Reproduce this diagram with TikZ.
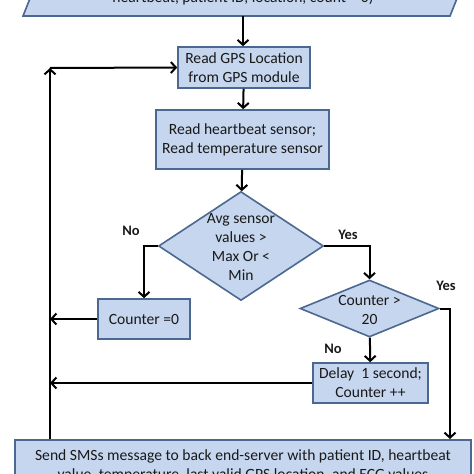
\documentclass[tikz,border=0pt]{standalone}
\usepackage{fontspec}
\setmainfont{Carlito}
\usetikzlibrary{shapes.geometric,arrows.meta}
\definecolor{boxfill}{HTML}{C6D6EE}
\definecolor{boxline}{HTML}{4A6890}
\begin{document}
\begin{tikzpicture}[x=1pt,y=-1pt,
		box/.style={draw=boxline, fill=boxfill, line width=1.6pt, inner sep=0pt, align=center,
				font=\fontsize{15.6}{19}\selectfont, text=black!90},
		dia/.style={box, shape=diamond},
		flow/.style={line width=2pt, -{Straight Barb[length=5pt,width=11pt,line width=2pt]}},
		lbl/.style={font=\fontsize{14.5}{16}\selectfont\bfseries, text=black!90}]
		\useasboundingbox (0,0) rectangle (474,474);
		\clip (0,0) rectangle (474,474);
		% start block, cut off by the frame
		\draw[box] (23,16) -- (450,16) -- (470,-34) -- (43,-34) -- cycle;
		\node[font=\fontsize{15.6}{19}\selectfont, text=black!90, anchor=base] (init) at (243,2)
			{heartbeat, patient ID, location, count = 0)};
		\coordinate (initb) at (243,16);
		% steps
		\node[box, minimum width=132pt, minimum height=41pt] (gps) at (244,67.5) {Read GPS Location\\from GPS module};
		\node[box, minimum width=173pt, minimum height=59pt] (sense) at (242.5,139.5) {Read heartbeat sensor;\\Read temperature sensor};
		\node[dia, minimum width=165pt, minimum height=109pt] (avg) at (241,246) {};
		\node[box, draw=none, fill=none] (avgtxt) at (241,246.5) {Avg sensor\\values >\\Max Or <\\Min};
		\node[box, minimum width=92pt, minimum height=40pt] (reset) at (144,319) {Counter =0};
		\node[dia, minimum width=139pt, minimum height=57pt] (cnt) at (369.5,308.5) {};
		\node[box, draw=none, fill=none] (cnttxt) at (369.5,309.5) {Counter >\\20};
		\node[box, minimum width=115pt, minimum height=40pt] (delay) at (370.5,383) {Delay~~1 second;\\Counter ++};
		\node[box, minimum width=456pt, minimum height=53pt, anchor=north] (sms) at (243,439)
			{Send SMSs message to back end-server with patient ID, heartbeat\\value, temperature, last valid GPS location, and ECG values};
		\coordinate (smsin) at (450,439);
		\coordinate (loop) at (50,68);
		% connectors
		\draw[flow] (initb) -- (initb |- gps.north);
		\draw[flow] (gps) -- (sense);
		\draw[flow] (sense) -- (avg);
		\draw[flow] (avg.west) -| (reset.north);
		\draw[flow] (avg.east) -| (cnt.north);
		\draw[flow] (cnt.east) -| (smsin);
		\draw[flow] (cnt) -- (delay);
		\draw[flow] (delay.west) -- (delay.west -| loop);
		\draw[flow] (reset.west) -- (reset.west -| loop);
		\draw[flow] (sms.north -| loop) -- (loop);
		\draw[flow] (loop) -- (gps.west);
		% labels
		\node[lbl] (no1) at (131,231) {No};
		\node[lbl] (yes1) at (348,235) {Yes};
		\node[lbl] (yes2) at (446,286) {Yes};
		\node[lbl] (no2) at (333,349) {No};
	\end{tikzpicture}
\end{document}
